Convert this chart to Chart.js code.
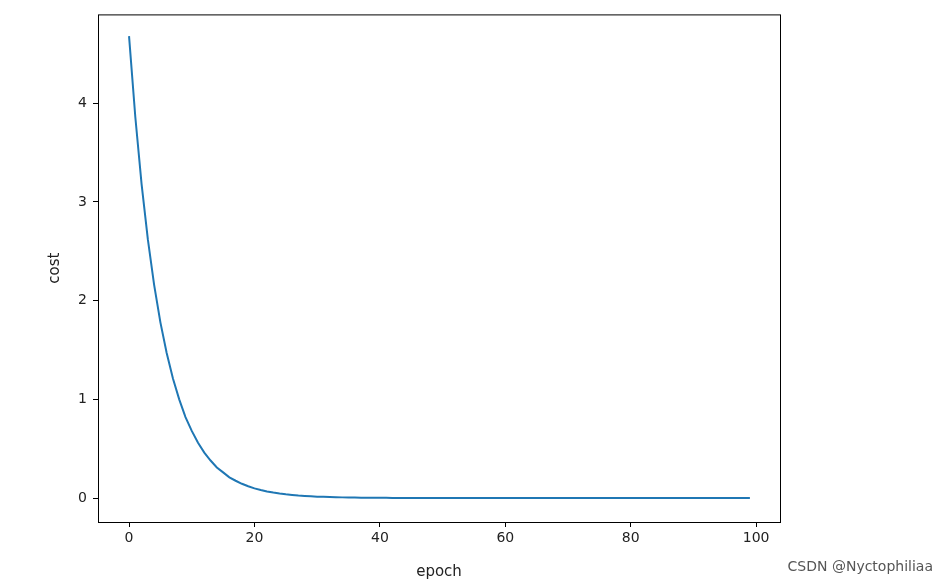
<!DOCTYPE html>
<html><head><meta charset="utf-8">
<script src="https://cdn.jsdelivr.net/npm/chart.js@4"></script>
<style>html,body{margin:0;padding:0;background:#fff}#w{width:945px;height:586px}</style>
</head><body><div id="w"><canvas id="c"></canvas></div>
<script>
const epochs = Array.from({length:100},(_,i)=>i);
const cost = [4.68,3.86,3.18,2.62,2.16,1.78,1.47,1.21,1.00,0.82,0.68,0.56,0.46,0.38,0.31,0.26,0.21,0.175,0.144,0.119,
0.098,0.081,0.067,0.055,0.045,0.037,0.031,0.025,0.021,0.017,0.014,0.012,0.0095,0.008,0.0065,0.005,0.004,0.0035,0.003,0.0024,
0.002,0.0016,0.0013,0.0011,0.0009,0.0007,0.0006,0.0005,0.0004,0.0003,0.0003,0.0002,0.0002,0.0001,0.0001,0.0001,0.0001,0,0,0,
0,0,0,0,0,0,0,0,0,0,0,0,0,0,0,0,0,0,0,0,0,0,0,0,0,0,0,0,0,0,0,0,0,0,0,0,0,0,0,0];
const xTicks = [0,20,40,60,80,100];
const yTicks = [0,1,2,3,4];
const xLabel = 'epoch', yLabel = 'cost', watermark = 'CSDN @Nyctophiliaa';
const F = 'DejaVu Sans';
const deco = {id:'deco', afterDraw(ch){
  const {ctx, chartArea:a} = ch;
  ctx.save();
  ctx.strokeStyle='#000'; ctx.lineWidth=1;
  ctx.strokeRect(a.left+0.5,a.top+0.5,a.right-a.left,a.bottom-a.top);
  ctx.fillStyle='#222'; ctx.font='15px '+F; ctx.textAlign='center';
  ctx.textBaseline='middle';
  ctx.fillText(xLabel,(a.left+a.right)/2,572);
  ctx.translate(55,(a.top+a.bottom)/2); ctx.rotate(-Math.PI/2); ctx.fillText(yLabel,0,0);
  ctx.restore(); ctx.save();
  ctx.fillStyle='#555'; ctx.font='14px '+F; ctx.textAlign='right'; ctx.textBaseline='middle';
  ctx.fillText(watermark,933,567);
  ctx.restore();
}};
new Chart(document.getElementById('c'),{
  type:'line',
  data:{datasets:[{data:epochs.map((e,i)=>({x:e,y:cost[i]})),borderColor:'#1f77b4',borderWidth:2,pointRadius:0,tension:0}]},
  options:{responsive:true,maintainAspectRatio:false,animation:false,
    layout:{padding:{top:14,right:165,left:0,bottom:0}},
    plugins:{legend:{display:false},tooltip:{enabled:false}},
    scales:{
      x:{type:'linear',min:-4.95,max:103.8,
        afterBuildTicks:s=>{s.ticks=xTicks.map(v=>({value:v}))},
        afterFit:s=>{s.height=64},
        grid:{drawOnChartArea:false,tickLength:5,color:'#000'},border:{display:false},
        ticks:{color:'#222',font:{family:F,size:14},padding:3,maxRotation:0}},
      y:{min:-0.243,max:4.90,
        afterBuildTicks:s=>{s.ticks=yTicks.map(v=>({value:v}))},
        afterFit:s=>{s.width=98},
        grid:{drawOnChartArea:false,tickLength:5,color:'#000'},border:{display:false},
        ticks:{color:'#222',font:{family:F,size:14},padding:6}}
    }},
  plugins:[deco]
});
</script></body></html>
